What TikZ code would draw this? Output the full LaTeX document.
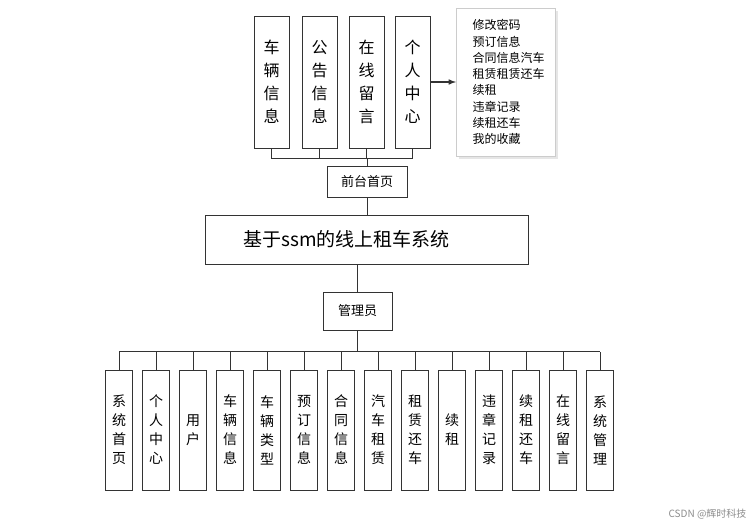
\documentclass[tikz,border=0pt]{standalone}
\usepackage{fontspec}
\setmainfont{Noto Sans CJK SC}
\usetikzlibrary{shadows}
\begin{document}
\begin{tikzpicture}[x=1pt,y=-1pt,
  vbox/.style={draw=black!80,thick,minimum width=#1,align=center,font=\fontsize{14}{19}\selectfont,inner sep=0pt},
  hbox/.style={draw=black!80,thick,font=\fontsize{13}{15}\selectfont},
  ln/.style={black!80,thick}]
\useasboundingbox (0,0) rectangle (755,529);
% top
\foreach \n/\x/\t in {t1/271.5/车\\辆\\信\\息, t2/319.5/公\\告\\信\\息, t3/366.5/在\\线\\留\\言, t4/412.5/个\\人\\中\\心}
  \node[vbox=35pt,minimum height=132pt,font=\fontsize{16}{23}\selectfont] (\n) at (\x,82) {\t};
\node[hbox,minimum width=80pt,minimum height=31pt] (qt) at (367,181.5) {前台首页};
\node[draw=black!80,thick,minimum width=323pt,minimum height=49pt,font=\fontsize{19}{22}\selectfont] (main) at (366.5,239.5) {\hspace*{-40pt}基于ssm的线上租车系统};
\node[hbox,minimum width=69pt,minimum height=38pt] (gl) at (357.5,311) {管理员};
\node[draw=black!20,fill=white,drop shadow={opacity=0.2},align=left,anchor=north west,minimum width=99pt,minimum height=148pt,font=\fontsize{12}{16.3}\selectfont,inner xsep=2pt,inner ysep=5pt] (list) at (456,8)
 {\hspace*{6pt}修改密码\\\hspace*{6pt}预订信息\\\hspace*{6pt}合同信息汽车\\\hspace*{6pt}租赁租赁还车\\\hspace*{6pt}续租\\\hspace*{6pt}违章记录\\\hspace*{6pt}续租还车\\\hspace*{6pt}我的收藏};
\coordinate (bus1) at (367,158);
\foreach \n in {t1,t2,t3,t4} \draw[ln] (\n.south) |- (bus1);
\draw[ln] (t4.south) |- (bus1) -- (qt.north);
\draw[ln] (qt.south) -- (main.north -| qt.south);
\draw[ln,-latex,line width=1.5pt] (t4.east |- 0,82) -- (list.west |- 0,82);
\draw[ln] (main.south -| gl.north) -- (gl.north);
\coordinate (bus2) at (357.5,352);
\draw[ln] (gl.south) -- (bus2);
\foreach \i/\t in {1/系\\统\\首\\页,2/个\\人\\中\\心,3/用\\户,4/车\\辆\\信\\息,5/车\\辆\\类\\型,6/预\\订\\信\\息,7/合\\同\\信\\息,8/汽\\车\\租\\赁,9/租\\赁\\还\\车,10/续\\租,11/违\\章\\记\\录,12/续\\租\\还\\车,13/在\\线\\留\\言,14/系\\统\\管\\理}{
  \node[vbox=27pt,minimum height=120pt] (b\i) at ({119+37*(\i-1)},430) {\t};
  \draw[ln] (b\i.north) -- ++(0,-18);
}
\draw[ln] (b1.north) ++(0,-18) -- ++(481,0);
\node[font=\fontsize{10}{11}\selectfont,text=black!45,anchor=east] (wm) at (750,514) {CSDN @辉时科技};
\end{tikzpicture}
\end{document}
